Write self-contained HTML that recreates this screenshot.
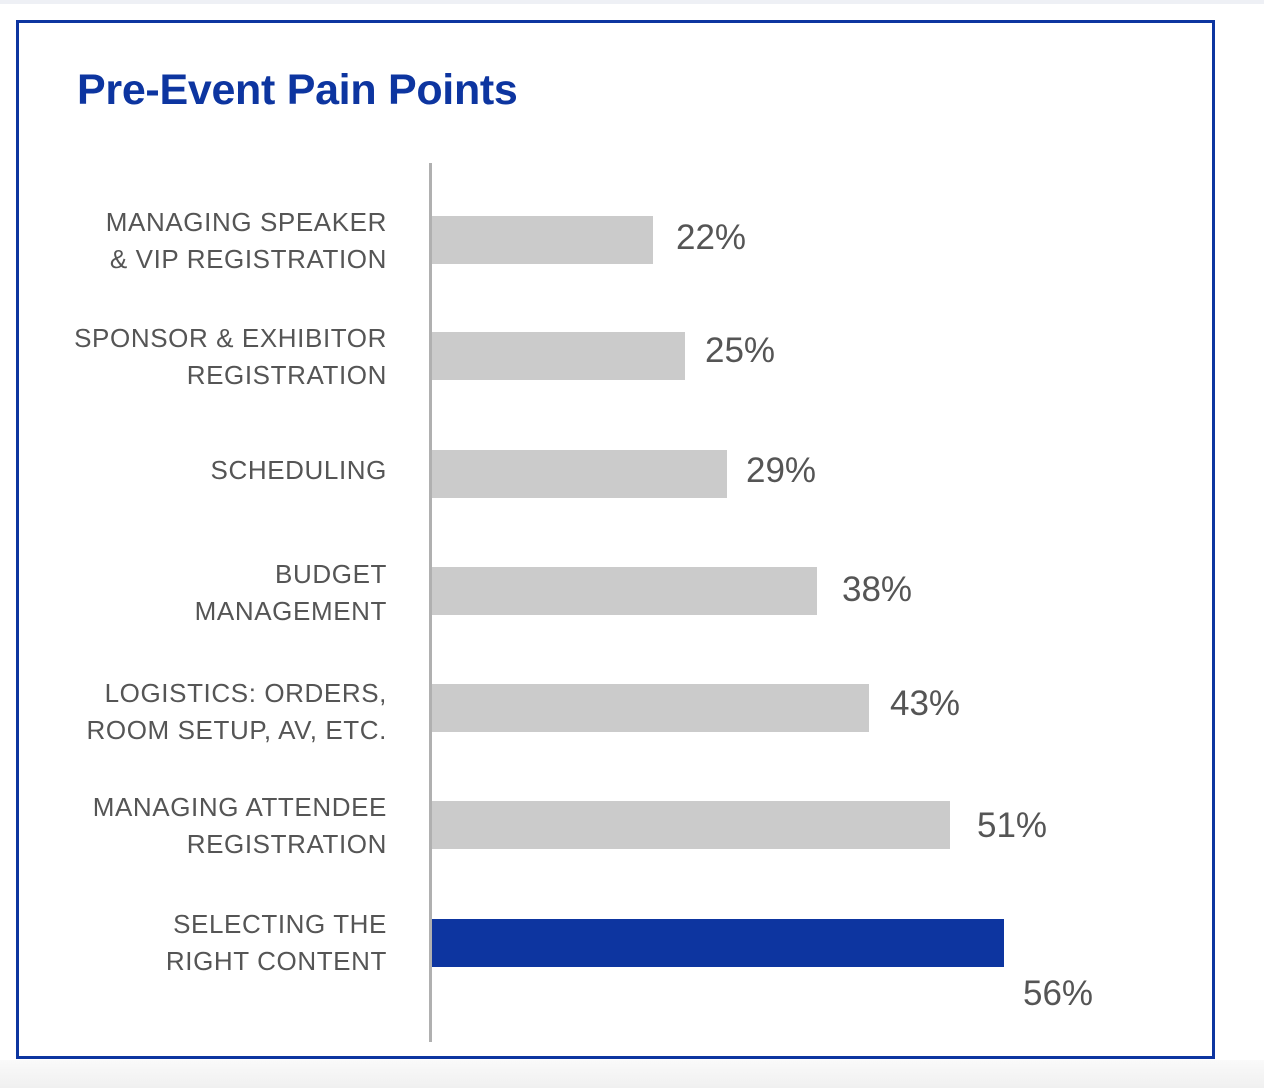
<!DOCTYPE html>
<html><head><style>
body{margin:0;width:1264px;height:1088px;background:#fff;position:relative;overflow:hidden;font-family:"Liberation Sans",sans-serif}
.top{position:absolute;left:0;top:0;width:1264px;height:4px;background:#eef0f5}
.bot{position:absolute;left:0;top:1060px;width:1264px;height:28px;background:linear-gradient(#fafafa,#f0f0f0)}
.box{position:absolute;left:16px;top:20px;width:1193px;height:1033px;border:3px solid #0d35a0;background:#fff}
h1{position:absolute;left:77px;top:66px;margin:0;font-size:43px;font-weight:bold;color:#0d35a0;letter-spacing:-0.3px}
.axis{position:absolute;left:429px;top:163px;width:3px;height:879px;background:#b0b0b0}
.bar{position:absolute;left:432px;height:48px;background:#cbcbcb}
.lab{position:absolute;right:877px;text-align:right;font-size:26px;color:#555;line-height:37px;white-space:nowrap;letter-spacing:0.6px}
.val{position:absolute;font-size:35px;color:#555}
</style></head><body>
<div class="top"></div><div class="bot"></div>
<div class="box"></div>
<h1>Pre-Event Pain Points</h1>
<div class="axis"></div>
<div class="bar" style="top:216px;width:221px"></div>
<div class="bar" style="top:332px;width:253px"></div>
<div class="bar" style="top:450px;width:295px"></div>
<div class="bar" style="top:567px;width:385px"></div>
<div class="bar" style="top:684px;width:437px"></div>
<div class="bar" style="top:801px;width:518px"></div>
<div class="bar" style="top:919px;width:572px;background:#0d35a0"></div>
<div class="lab" style="top:204px">MANAGING SPEAKER<br>&amp; VIP REGISTRATION</div>
<div class="lab" style="top:320px">SPONSOR &amp; EXHIBITOR<br>REGISTRATION</div>
<div class="lab" style="top:452px">SCHEDULING</div>
<div class="lab" style="top:556px">BUDGET<br>MANAGEMENT</div>
<div class="lab" style="top:675px">LOGISTICS: ORDERS,<br>ROOM SETUP, AV, ETC.</div>
<div class="lab" style="top:789px">MANAGING ATTENDEE<br>REGISTRATION</div>
<div class="lab" style="top:906px">SELECTING THE<br>RIGHT CONTENT</div>
<div class="val" style="left:676px;top:218px">22%</div>
<div class="val" style="left:705px;top:331px">25%</div>
<div class="val" style="left:746px;top:451px">29%</div>
<div class="val" style="left:842px;top:570px">38%</div>
<div class="val" style="left:890px;top:684px">43%</div>
<div class="val" style="left:977px;top:806px">51%</div>
<div class="val" style="left:1023px;top:974px">56%</div>
</body></html>
